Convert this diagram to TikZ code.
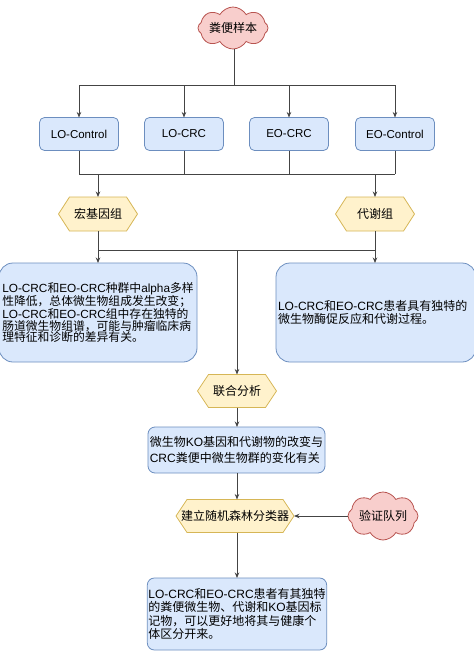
\documentclass[tikz,border=0pt]{standalone}
\usepackage{fontspec}
\setmainfont{Noto Sans CJK SC}
\newfontfamily\latf{Liberation Sans}
\newcommand\LT[1]{{\latf #1}}
\usetikzlibrary{shapes.symbols,arrows.meta}
\definecolor{bfill}{HTML}{DAE8FC}
\definecolor{bdraw}{HTML}{6C8EBF}
\definecolor{yfill}{HTML}{FFF2CC}
\definecolor{ydraw}{HTML}{D6B656}
\definecolor{rfill}{HTML}{F8CECC}
\definecolor{rdraw}{HTML}{B85450}
\definecolor{lc}{HTML}{444444}
\newcommand\hexnode[6]{%
  \filldraw[hexdraw] ({#2-#4/2},#3) -- ({#2-#4/2+11},{#3-#5/2}) -- ({#2+#4/2-11},{#3-#5/2}) -- ({#2+#4/2},#3) -- ({#2+#4/2-11},{#3+#5/2}) -- ({#2-#4/2+11},{#3+#5/2}) -- cycle;
  \node[hexlbl, minimum width=#4pt, minimum height=#5pt] (#1) at (#2,#3) {#6};
}
\begin{document}
\begin{tikzpicture}[x=1pt,y=-1pt,
  txt/.style={font=\fontsize{12}{13}\selectfont},
  sbox/.style={draw=bdraw,fill=bfill,rounded corners=5pt,line width=0.8pt,inner sep=1pt,outer sep=0pt,minimum width=79pt,minimum height=33pt,font=\latf\fontsize{11.5}{13}\selectfont},
  bigbox/.style={draw=bdraw,fill=bfill,rounded corners=14pt,line width=0.8pt,inner sep=1.5pt,outer sep=0pt,align=left},
  midbox/.style={draw=bdraw,fill=bfill,rounded corners=7pt,line width=0.8pt,inner sep=1pt,outer sep=0pt,align=left},
  hexdraw/.style={draw=ydraw,fill=yfill,line width=0.8pt},
  hexlbl/.style={inner sep=0pt,outer sep=0pt,txt},
  cloudn/.style={cloud,cloud puffs=8,cloud puff arc=120,cloud ignores aspect,draw=rdraw,fill=rfill,line width=0.8pt,inner sep=0pt,outer sep=0pt,txt},
  ln/.style={draw=lc,line width=0.9pt},
  arr/.style={ln,-{Stealth[length=5.5pt,width=4.5pt]}}
]
\useasboundingbox (0,0) rectangle (474,651);

% top cloud
\node[cloudn,minimum width=70pt,minimum height=42pt] (c0) at (233,28) {粪便样本};
\coordinate (j1) at (234,85);

% four groups
\node[sbox] (b1) at (79,134) {LO-Control};
\node[sbox] (b2) at (184,134) {LO-CRC};
\node[sbox] (b3) at (289,134) {EO-CRC};
\node[sbox] (b4) at (395,134) {EO-Control};

\draw[ln] (c0.south -| j1) -- (j1);
\draw[ln] (b1.north |- j1) -- (b4.north |- j1);
\draw[arr] (b1.north |- j1) -- (b1.north);
\draw[arr] (b2.north |- j1) -- (b2.north);
\draw[arr] (b3.north |- j1) -- (b3.north);
\draw[arr] (b4.north |- j1) -- (b4.north);

% omics hexagons
\hexnode{h1}{98}{214}{79}{34}{宏基因组}
\hexnode{h2}{375}{214}{79}{34}{代谢组}
\coordinate (j2) at (237,174);
\draw[ln] (b1.south) -- (b1.south |- j2);
\draw[ln] (b2.south) -- (b2.south |- j2);
\draw[ln] (b3.south) -- (b3.south |- j2);
\draw[ln] (b4.south) -- (b4.south |- j2);
\draw[ln] (b1.south |- j2) -- (b4.south |- j2);
\draw[arr] (h1.north |- j2) -- (h1.north);
\draw[arr] (h2.north |- j2) -- (h2.north);

% result boxes
\node[bigbox,minimum width=198pt,minimum height=99pt,font=\fontsize{11.8}{11.8}\selectfont] (g1) at (98,312.5)
 {\LT{LO-CRC}和\LT{EO-CRC}种群中\LT{alpha}多样\\性降低，总体微生物组成发生改变；\\\LT{LO-CRC}和\LT{EO-CRC}组中存在独特的\\肠道微生物组谱，可能与肿瘤临床病\\理特征和诊断的差异有关。};
\node[bigbox,minimum width=200pt,minimum height=99pt,text width=196pt,font=\fontsize{12}{13}\selectfont] (g2) at (376,312.5)
 {\LT{LO-CRC}和\LT{EO-CRC}患者具有独特的\\微生物酶促反应和代谢过程。};

\coordinate (j3) at (237,250);
\draw[arr] (h1.south) -- (h1.south |- g1.north);
\draw[arr] (h2.south) -- (h2.south |- g2.north);
\draw[ln] (h1.south |- j3) -- (h2.south |- j3);

% joint analysis
\hexnode{h3}{237}{391}{79}{33}{联合分析}
\draw[arr] (j3) -- (h3.north);

\node[midbox,minimum width=177pt,minimum height=46pt,font=\fontsize{12}{15.5}\selectfont] (m1) at (236.5,450)
 {微生物\LT{KO}基因和代谢物的改变与\\\LT{CRC}粪便中微生物群的变化有关};
\draw[arr] (h3.south) -- (h3.south |- m1.north);

\hexnode{h4}{235}{516}{118}{33}{建立随机森林分类器}
\draw[arr] (m1.south -| h3.south) -- (h3.south |- h4.north);

\node[cloudn,minimum width=70pt,minimum height=48pt] (c1) at (383,516) {验证队列};
\draw[arr] (c1.west) -- (h4.east);

\node[midbox,minimum width=178pt,minimum height=72pt,font=\fontsize{12}{13.3}\selectfont] (f) at (237,614)
 {\LT{LO-CRC}和\LT{EO-CRC}患者有其独特\\的粪便微生物、代谢和\LT{KO}基因标\\记物，可以更好地将其与健康个\\体区分开来。};
\draw[arr] (h3.south |- h4.south) -- (h3.south |- f.north);
\end{tikzpicture}
\end{document}
